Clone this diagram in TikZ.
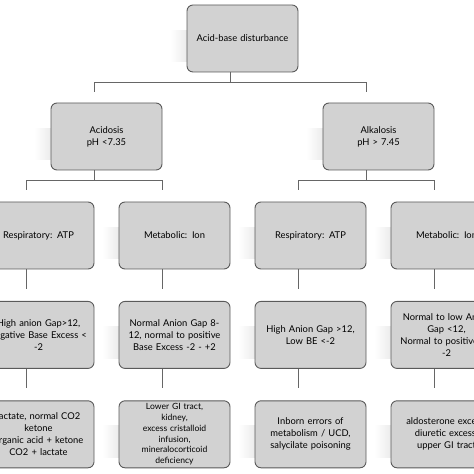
\documentclass[tikz,border=0pt]{standalone}
\usepackage{fontspec}
\setmainfont{Lato}
\usetikzlibrary{positioning, fadings, backgrounds}
\definecolor{boxfill}{HTML}{D2D2D2}
\definecolor{boxline}{HTML}{5A5A5A}
\definecolor{connline}{HTML}{666666}

\begin{document}
\begin{tikzpicture}[
  x=1bp, y=1bp,
  box/.style={
    draw=boxline,
    fill=boxfill,
    line width=0.9bp,
    rounded corners=6bp,
    minimum height=67bp,
    minimum width=111bp,
    text width=109bp,
    inner sep=1bp,
    align=center,
    font=\fontsize{9.4}{12}\selectfont
  },
  smalltext/.style={font=\fontsize{8.6}{10.8}\selectfont},
  conn/.style={draw=connline, line width=0.8bp},
  softshade/.style={fill=gray!18, path fading=west}
]
\useasboundingbox (0,0) rectangle (474,474);
\clip (0,0) rectangle (474,474);

\node[box] (dist) at (242.5,435.5) {Acid-base disturbance};
\node[box] (acid) at (106.5,337.5) {Acidosis\\pH <7.35};
\node[box] (alk) at (378.5,337.5) {Alkalosis\\pH > 7.45};

\node[box] (respAc) at (38.5,238.5) {Respiratory: ATP};
\node[box] (metAc) at (174.5,238.5) {Metabolic: Ion};
\node[box] (respAl) at (310.5,238.5) {Respiratory: ATP};
\node[box] (metAl) at (446.5,238.5) {Metabolic: Ion};

\node[box, below=31.5bp of respAc] (gapRespAc) {High anion Gap>12,\\negative Base Excess <\\-2};
\node[box, below=31.5bp of metAc] (gapMetAc) {Normal Anion Gap 8-\\12, normal to positive\\Base Excess -2 - +2};
\node[box, below=31.5bp of respAl] (gapRespAl) {High Anion Gap >12,\\Low BE <-2};
\node[box, below=31.5bp of metAl] (gapMetAl) {Normal to low Anion\\Gap <12,\\Normal to positive BE\\-2};

\node[box, below=31.5bp of gapRespAc] (causeRespAc) {lactate, normal CO2\\ketone\\organic acid + ketone\\CO2 + lactate};
\node[box, smalltext, below=31.5bp of gapMetAc] (causeMetAc) {Lower GI tract,\\kidney,\\excess cristalloid\\infusion,\\mineralocorticoid\\deficiency};
\node[box, below=31.5bp of gapRespAl] (causeRespAl) {Inborn errors of\\metabolism / UCD,\\salycilate poisoning};
\node[box, below=31.5bp of gapMetAl] (causeMetAl) {aldosterone excess,\\diuretic excess,\\upper GI tract};

% soft shadows left of the boxes
\begin{scope}[on background layer]
\foreach \n in {dist, acid, alk, respAc, metAc, respAl, metAl,
    gapRespAc, gapMetAc, gapRespAl, gapMetAl,
    causeRespAc, causeMetAc, causeRespAl, causeMetAl}
  \fill[softshade] ([xshift=-16bp,yshift=-25bp]\n.north west) rectangle ([xshift=3bp,yshift=10bp]\n.south west);
\end{scope}

% tree connectors
\draw[conn] ([xshift=-12bp]dist.south) -- ++(0,-10) -| ([xshift=-12bp,yshift=11bp]acid.north);
\draw[conn] ([xshift=-12bp]dist.south) -- ++(0,-10) -| ([xshift=-12bp,yshift=11bp]alk.north);
\draw[conn] ([xshift=-12bp]acid.south) -- ++(0,-10) -| ([xshift=-12bp,yshift=12bp]respAc.north);
\draw[conn] ([xshift=-12bp]acid.south) -- ++(0,-10) -| ([xshift=-12bp,yshift=12bp]metAc.north);
\draw[conn] ([xshift=-12bp]alk.south) -- ++(0,-10) -| ([xshift=-12bp,yshift=12bp]respAl.north);
\draw[conn] ([xshift=-12bp]alk.south) -- ++(0,-10) -| ([xshift=-12bp,yshift=12bp]metAl.north);

\foreach \a/\b in {respAc/gapRespAc, metAc/gapMetAc, respAl/gapRespAl, metAl/gapMetAl,
    gapRespAc/causeRespAc, gapMetAc/causeMetAc, gapRespAl/causeRespAl, gapMetAl/causeMetAl}
  \draw[conn] ([xshift=-12bp]\a.south) -- ([xshift=-12bp,yshift=12bp]\b.north);

\end{tikzpicture}
\end{document}
